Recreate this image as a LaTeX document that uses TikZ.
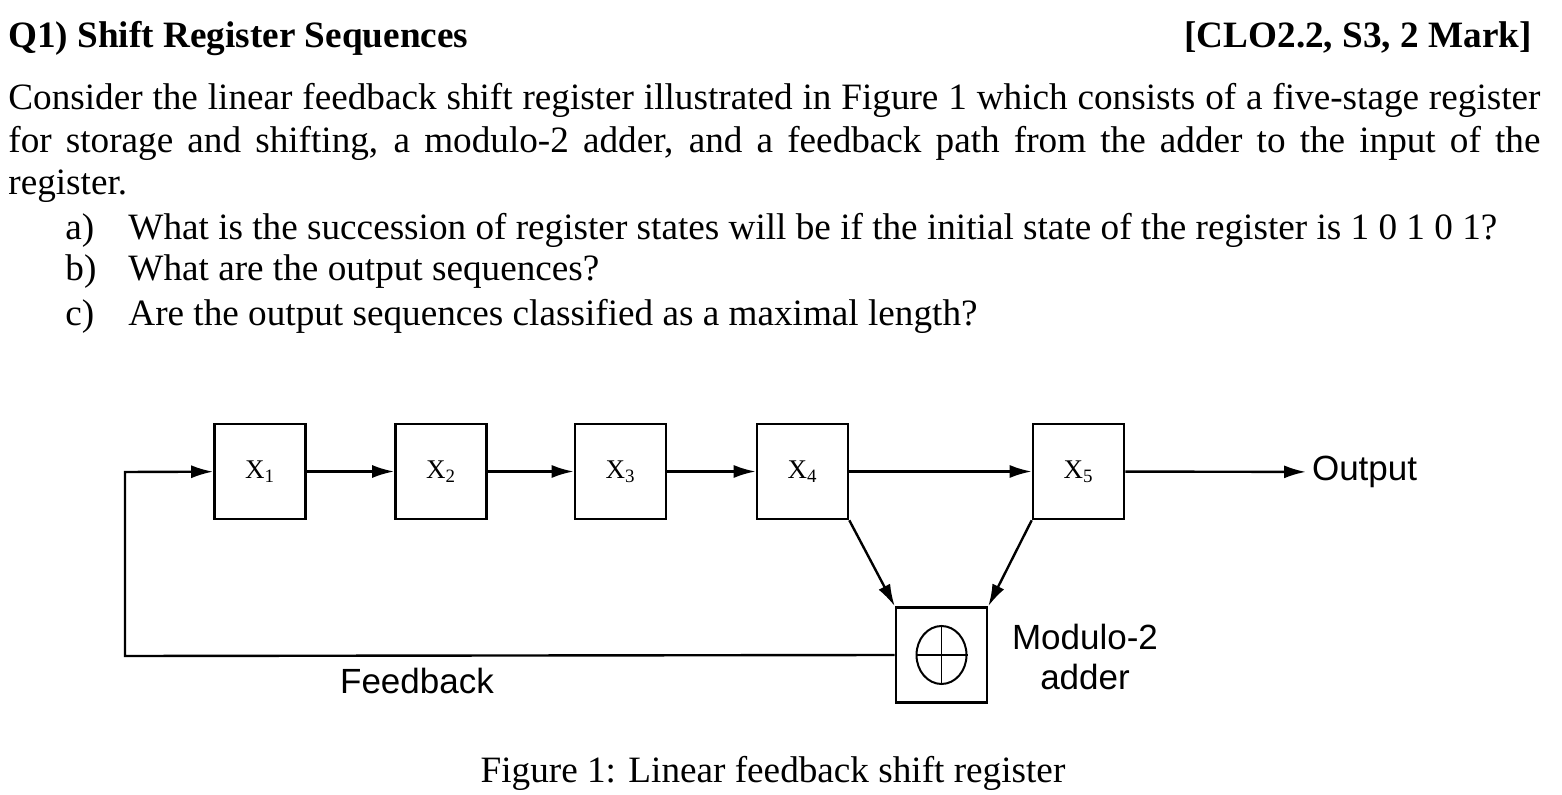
\documentclass[tikz,border=0pt]{standalone}
\usepackage{fontspec}
\setmainfont{Liberation Serif}
\newfontfamily\diag{Liberation Sans}
\usetikzlibrary{arrows.meta,shapes.geometric}
\begin{document}
\begin{tikzpicture}[x=0.5pt,y=-0.5pt,
  txt/.style={inner sep=0pt,anchor=base west,font=\fontsize{18.6}{22}\selectfont},
  reg/.style={draw,line width=1.3pt,minimum width=45.5pt,minimum height=47.5pt,inner sep=0pt,font=\fontsize{13.5}{15}\selectfont},
  lab/.style={inner sep=0pt,font=\diag\fontsize{17.5}{20}\selectfont,align=center},
  wire/.style={line width=1.2pt},
  arr/.style={wire,-{Latex[length=11pt,width=6.5pt]}}]
\useasboundingbox (0,0) rectangle (1562,795);
% text
\node[txt] (t1) at (8,48) {\textbf{Q1) Shift Register Sequences}};
\node[txt,anchor=base east] (t2) at (1532,48) {\textbf{[CLO2.2, S3, 2 Mark]}};
\node[txt] (p1) at (8,110) {\makebox[766pt][s]{Consider the linear feedback shift register illustrated in Figure 1 which consists of a five-stage register}};
\node[txt] (p2) at (8,153) {\makebox[766pt][s]{for storage and shifting, a modulo-2 adder, and a feedback path from the adder to the input of the}};
\node[txt] (p3) at (8,195) {register.};
\node[txt] (la) at (65,240) {a)};
\node[txt] (ta) at (128,240) {What is the succession of register states will be if the initial state of the register is 1 0 1 0 1?};
\node[txt] (lb) at (65,281) {b)};
\node[txt] (tb) at (128,281) {What are the output sequences?};
\node[txt] (lc) at (65,326) {c)};
\node[txt] (tc) at (128,326) {Are the output sequences classified as a maximal length?};
\node[txt,anchor=base] (cap) at (773,782) {Figure 1: Linear feedback shift register};
% diagram
\node[reg] (x1) at (260,471.5) {X\textsubscript{1}};
\node[reg] (x2) at (441,471.5) {X\textsubscript{2}};
\node[reg] (x3) at (620.5,471.5) {X\textsubscript{3}};
\node[reg] (x4) at (802.5,471.5) {X\textsubscript{4}};
\node[reg] (x5) at (1078.5,471.5) {X\textsubscript{5}};
\node[reg] (add) at (941.5,655) {};
\node[draw,ellipse,line width=1pt,minimum width=25pt,minimum height=29pt,inner sep=0pt] (ring) at (add.center) {};
\draw[line width=0.8pt] (ring.north) -- (ring.south) (ring.west) -- (ring.east);
\node[lab,anchor=west,outer sep=3pt] (out) at (1306,472) {Output};
\node[lab] (fb) at (417,681) {Feedback};
\node[lab] (ml) at (1085,657) {Modulo-2\\adder};
\coordinate (c1) at (125,656);
\coordinate (c2) at (125,472);
\draw[arr] (x1) -- (x2);
\draw[arr] (x2) -- (x3);
\draw[arr] (x3) -- (x4);
\draw[arr] (x4) -- (x5);
\draw[arr] (x5) -- (out);
\draw[arr] (x4.south east) -- (add.north west);
\draw[arr] (x5.south west) -- (add.north east);
\draw[arr] (add.west) -- (c1) -- (c2) -- (x1);
\end{tikzpicture}
\end{document}
